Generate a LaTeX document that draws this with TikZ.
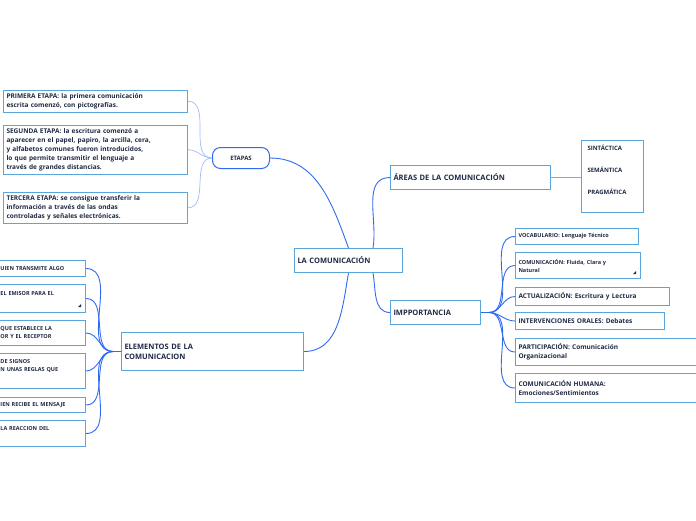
\documentclass[tikz,border=0pt]{standalone}
\usepackage{fontspec}
\setmainfont{Open Sans}
\begin{document}
\begin{tikzpicture}[x=1pt,y=-1pt,
 bx/.style={draw=boxc,line width=1pt,fill=white,inner sep=3pt,align=left,anchor=north west,text=txt,font=\bfseries\fontsize{6.5}{9}\selectfont},
 con/.style={draw=linec,line width=0.9pt},
 thin/.style={draw=linec!45,line width=0.7pt}]
\definecolor{boxc}{HTML}{5AA5DC}\definecolor{linec}{HTML}{2F6BF0}\definecolor{txt}{HTML}{1F2A44}
\useasboundingbox (0,0) rectangle (696,520);
\clip (0,0) rectangle (696,520);
% main
\node[bx,text width=102pt,minimum height=24pt,font=\bfseries\fontsize{7.5}{9}\selectfont] (main) at (294,248) {LA COMUNICACIÓN};
\node[draw=linec,line width=1pt,rounded corners=8pt,fill=white,minimum width=57pt,minimum height=21pt,text=txt,font=\bfseries\fontsize{6}{8}\selectfont] (etapas) at (241,158) {ETAPAS};
\node[bx,text width=178pt] (p1) at (3,90) {PRIMERA ETAPA: la primera comunicación\\escrita comenzó, con pictografías.};
\node[bx,text width=178pt] (p2) at (3,125) {SEGUNDA ETAPA: la escritura comenzó a\\aparecer en el papel, papiro, la arcilla, cera,\\y alfabetos comunes fueron introducidos,\\lo que permite transmitir el lenguaje a\\través de grandes distancias.};
\node[bx,text width=178pt] (p3) at (3,192) {TERCERA ETAPA: se consigue transferir la\\información a través de las ondas\\controladas y señales electrónicas.};
\node[bx,text width=154pt,minimum height=24pt,font=\bfseries\fontsize{7.5}{9}\selectfont] (areas) at (390,165) {ÁREAS DE LA COMUNICACIÓN};
\node[bx,minimum width=62pt,minimum height=72pt] (sin) at (581,140) {};
\node[anchor=west,text=txt,font=\bfseries\fontsize{6}{8}\selectfont] (s1) at (584,148) {SINTÁCTICA};
\node[anchor=west,text=txt,font=\bfseries\fontsize{6}{8}\selectfont] (s2) at (584,170) {SEMÁNTICA};
\node[anchor=west,text=txt,font=\bfseries\fontsize{6}{8}\selectfont] (s3) at (584,192) {PRAGMÁTICA};
\node[bx,text width=84pt,minimum height=24pt,font=\bfseries\fontsize{7.5}{9}\selectfont] (imp) at (390,300) {IMPPORTANCIA};
\node[bx,text width=117pt,minimum height=16pt,font=\bfseries\fontsize{5.5}{8}\selectfont] (r1) at (515,228) {VOCABULARIO: Lenguaje Técnico};
\node[bx,minimum height=26pt,text width=119pt,font=\bfseries\fontsize{5.5}{8}\selectfont] (r2) at (515,252) {COMUNICACIÓN: Fluida, Clara y\\Natural};
\node[bx,text width=148pt,minimum height=18pt] (r3) at (515,287) {ACTUALIZACIÓN: Escritura y Lectura};
\node[bx,text width=143pt,minimum height=17pt] (r4) at (515,312) {INTERVENCIONES ORALES: Debates};
\node[bx,minimum height=27pt,text width=184pt] (r5) at (515,338) {PARTICIPACIÓN: Comunicación\\Organizacional};
\node[bx,minimum height=29pt,text width=184pt] (r6) at (515,373) {COMUNICACIÓN HUMANA:\\Emociones/Sentimientos};
\node[bx,minimum height=38pt,text width=176pt,font=\bfseries\fontsize{7.5}{10}\selectfont] (ele) at (121,332) {ELEMENTOS DE LA\\COMUNICACION};
\tikzset{lb/.style={bx,text width=139pt,font=\bfseries\fontsize{5.5}{8}\selectfont}}
\node[lb,minimum height=16pt] (l1) at (-60,260) {\hspace*{57pt}UIEN TRANSMITE ALGO};
\node[lb,minimum height=28pt] (l2) at (-60,284) {\hspace*{57pt}EL EMISOR PARA EL\\\strut};
\node[lb,minimum height=25pt] (l3) at (-60,320) {\hspace*{57pt}QUE ESTABLECE LA\\\hspace*{57pt}OR Y EL RECEPTOR};
\node[lb,minimum height=35pt] (l4) at (-60,353) {\hspace*{57pt}DE SIGNOS\\\hspace*{57pt}N UNAS REGLAS QUE\\\strut};
\node[lb,minimum height=15pt] (l5) at (-60,397) {\hspace*{57pt}IEN RECIBE EL MENSAJE};
\node[lb,minimum height=26pt] (l6) at (-60,420) {\hspace*{57pt}LA REACCION DEL\\\strut};
% corner marks
\foreach \x/\y in {81/307,636/274}{\fill[txt] (\x,\y)--(\x-3,\y)--(\x,\y-3)--cycle;}
% connectors
\draw[con] (main.north) to[out=110,in=0] (etapas.east);
\draw[con] (main.north east) ++(-30,0) to[out=80,in=180] (areas.west);
\draw[con] (main.south east) ++(-30,0) to[out=-80,in=180] (imp.west);
\draw[con] (main.south) to[out=-100,in=0] (ele.east);
\foreach \n in {p1,p2,p3}{\draw[thin] (etapas.west) to[out=180,in=0] (\n.east);}
\draw[con,line width=1.5pt,draw=linec!60] (areas.east) -- (sin.west|-areas.east);
\foreach \n in {r1,r2,r3,r4,r5,r6}{\draw[con] (imp.east) -- ++(8,0) to[out=0,in=180] (\n.west);}
\foreach \n in {l1,l2,l3,l4,l5,l6}{\draw[con] (ele.west) -- ++(-8,0) to[out=180,in=0] (\n.east);}
\end{tikzpicture}
\end{document}
